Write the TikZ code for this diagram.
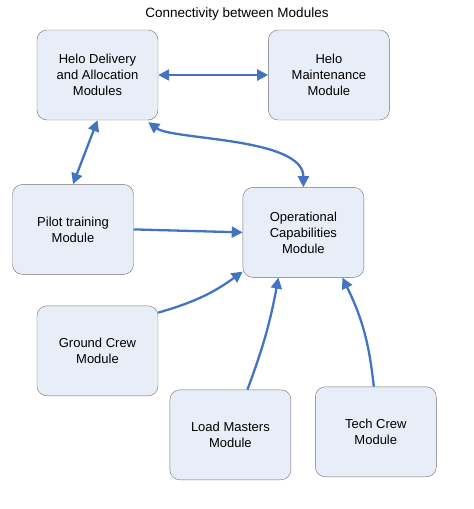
\documentclass[tikz,border=0pt]{standalone}
\usepackage{fontspec}
\setmainfont{Liberation Sans}
\usetikzlibrary{positioning,arrows.meta}
\definecolor{modfill}{HTML}{E8EEF8}
\definecolor{modline}{HTML}{6F6F6F}
\definecolor{linkblue}{HTML}{4274C2}

\begin{document}
\begin{tikzpicture}[x=1pt, y=-1pt,
    modnode/.style={rectangle, rounded corners=10pt, draw=modline, fill=modfill, thin,
                    minimum width=121pt, minimum height=90pt, align=center,
                    font=\fontsize{13}{16}\selectfont},
    link/.style={draw=linkblue, line width=2.3pt, -{Triangle[length=11pt,width=11pt]}},
    biglink/.style={link, {Triangle[length=11pt,width=11pt]}-{Triangle[length=11pt,width=11pt]}}
   ]
   \useasboundingbox (0,0) rectangle (474,509);
   \node (title) at (237,14) {\fontsize{13.5}{15}\selectfont Connectivity between Modules};
   \node[modnode]  (delivery)     at (97.5,75)                      {Helo Delivery\\and Allocation\\Modules};
   \node[modnode]  (maintenance)  [right=110pt of delivery]          {Helo\\Maintenance\\Module};
   \node[modnode]  (pilot)        [below=64pt of delivery, xshift=-24.5pt] {Pilot training\\Module};
   \node[modnode]  (operational)  [right=109pt of pilot, yshift=-3pt] {Operational\\Capabilities\\Module};
   \node[modnode]  (ground)       [below=31pt of pilot, xshift=24.5pt] {Ground Crew\\Module};
   \node[modnode]  (loadmasters)  [below=112pt of operational, xshift=-73pt] {Load Masters\\Module};
   \node[modnode]  (techcrew)     [right=24pt of loadmasters, yshift=3pt] {Tech Crew\\Module};

  \draw[biglink] (delivery.east) -- (maintenance.west);
  \draw[biglink] (delivery.south) -- (pilot.north);
  \draw[biglink] ([xshift=-10pt, yshift=-2pt]delivery.south east) .. controls +(25pt,-18pt) and +(0pt,50pt) .. (operational.north);
  \draw[link] (pilot.east) -- (operational.west);
  \draw[link] ([yshift=-7pt]ground.north east) to[bend right=10] ([yshift=6pt]operational.south west);
  \draw[link] ([xshift=17pt]loadmasters.north) to[bend right=5] ([xshift=-25pt]operational.south);
  \draw[link] ([xshift=-2pt]techcrew.north) to[bend right=10] ([xshift=39pt]operational.south);
 \end{tikzpicture}
\end{document}
